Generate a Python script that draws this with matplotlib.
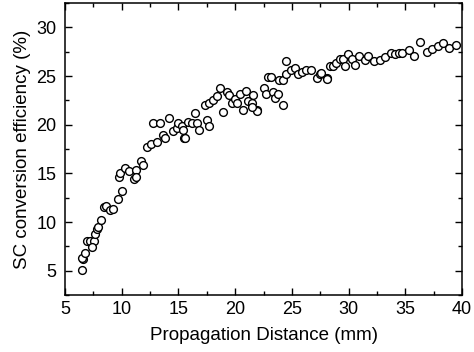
import matplotlib
matplotlib.use("Agg")
import matplotlib.pyplot as plt
from matplotlib.ticker import MultipleLocator

plt.rcParams['font.family'] = ['Liberation Sans', 'DejaVu Sans']

distance_mm = [
    6.47, 6.6, 6.5, 6.76, 6.9, 7.2, 7.55, 7.4, 7.64, 7.8, 7.93, 8.15, 8.4, 8.6, 9.0, 9.26,
    9.7, 10.0, 9.8, 9.85, 10.3, 10.67, 11.1, 11.3, 11.25, 11.67, 11.9,
    12.2, 12.6, 13.1, 13.6, 13.8, 12.8, 13.37, 14.2, 14.5, 14.84, 15.0, 15.3, 15.5, 15.8,
    15.57, 15.37, 16.2, 16.45, 16.6, 16.8, 17.5, 17.7, 17.3, 17.7, 18.07, 18.4, 18.66,
    18.95, 19.25, 19.5, 19.7, 19.98, 20.2, 20.4, 20.65, 20.95, 21.15, 21.45, 21.6, 21.9,
    21.95, 21.5, 22.5, 22.7, 23.35, 23.5, 23.8, 24.18, 22.9, 23.2, 23.9, 24.23, 24.5,
    24.5, 24.9, 25.3, 25.55, 25.85, 26.2, 26.7, 27.2, 27.5, 28.1, 28.35,
    27.6, 28.05, 28.65, 28.9, 29.2, 29.5, 29.67, 29.96, 30.26, 30.6, 30.9, 31.4, 31.7,
    32.2, 32.75, 33.2, 33.7, 34.07, 34.4, 34.67, 35.3, 35.75, 36.3, 36.9, 37.3, 37.9,
    38.3, 38.86, 39.45,
]
efficiency_pct = [
    5.07, 6.2, 6.3, 6.8, 8.1, 8.1, 8.1, 7.4, 8.74, 9.25, 9.5, 10.2, 11.5, 11.65, 11.2, 11.3,
    12.4, 13.2, 14.65, 15.07, 15.6, 15.25, 14.4, 15.35, 14.66, 16.27, 15.86,
    17.75, 18.0, 18.2, 18.9, 18.6, 20.15, 20.15, 20.7, 19.36, 19.7, 20.15, 19.9, 18.67, 20.25,
    18.6, 19.5, 20.2, 21.2, 20.15, 19.46, 20.5, 19.9, 22.0, 22.2, 22.5, 22.95, 23.75,
    21.3, 23.4, 23.05, 22.2, 22.6, 22.2, 23.2, 21.5, 23.5, 22.4, 22.2, 23.05, 21.5,
    21.4, 21.85, 23.75, 23.2, 23.4, 22.7, 23.2, 22.0, 24.9, 24.9, 24.6, 24.6, 26.55,
    25.2, 25.6, 25.85, 25.2, 25.45, 25.6, 25.6, 24.8, 25.2, 24.8, 26.0,
    25.3, 24.7, 26.0, 26.3, 26.8, 26.8, 26.0, 27.27, 26.8, 26.1, 27.07, 26.65, 27.07,
    26.6, 26.65, 27.0, 27.4, 27.25, 27.4, 27.35, 27.7, 27.1, 28.5, 27.45, 27.8, 28.1,
    28.45, 27.9, 28.25,
]

x_ticks = [5, 10, 15, 20, 25, 30, 35, 40]
y_ticks = [5, 10, 15, 20, 25, 30]

fig = plt.figure(figsize=(4.74, 3.52), dpi=100)
ax = fig.add_axes([0.137, 0.162, 0.838, 0.829])

ax.plot(distance_mm, efficiency_pct, linestyle='none', marker='o', markersize=5.6,
        markerfacecolor='white', markeredgecolor='black', markeredgewidth=1.0)

ax.set_xlim(5, 40)
ax.set_ylim(2.5, 32.5)
ax.set_xticks(x_ticks)
ax.set_yticks(y_ticks)
ax.xaxis.set_minor_locator(MultipleLocator(2.5))
ax.yaxis.set_minor_locator(MultipleLocator(2.5))
ax.tick_params(which='both', direction='in', top=True, right=True, labelsize=13, width=1)
ax.tick_params(axis='x', which='major', pad=4.5)
ax.tick_params(axis='y', which='major', pad=6)
ax.tick_params(which='major', length=5)
ax.tick_params(which='minor', length=3)
for s in ax.spines.values():
    s.set_linewidth(1.1)

ax.set_xlabel('Propagation Distance (mm)', fontsize=13.5, labelpad=6)
ax.set_ylabel('SC conversion efficiency (%)', fontsize=13.5, labelpad=4)

fig.savefig('out.png', dpi=100)
